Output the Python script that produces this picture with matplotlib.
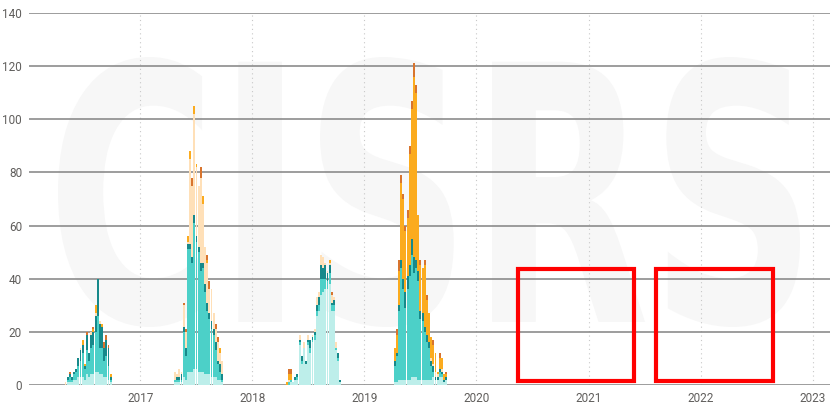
import numpy as np
import pandas as pd
import matplotlib
matplotlib.use("Agg")
import matplotlib.pyplot as plt
import matplotlib.dates as mdates
from matplotlib.textpath import TextPath
from matplotlib.patches import PathPatch, Rectangle
from matplotlib.font_manager import FontProperties
from matplotlib.transforms import Affine2D

# weekly counts per season, stacked bottom -> top
series_names = ["light", "turquoise", "teal", "peach", "orange", "brown"]
series_colors = ["#bdeeea", "#4cd0c8", "#17898a", "#ffe0b8", "#fbab1e", "#d8742e"]

start_2016 = "2016-05-02"
light_2016 = [0, 1, 1, 1, 2, 2, 3, 3, 3, 2, 4, 3, 4, 4, 5, 5, 4, 4, 3, 3, 2, 1]
turq_2016 = [0, 1, 2, 1, 2, 3, 4, 6, 9, 4, 9, 6, 10, 11, 15, 21, 10, 10, 6, 8, 5, 1]
teal_2016 = [0, 1, 1, 1, 1, 1, 3, 4, 3, 1, 6, 3, 5, 5, 6, 14, 9, 8, 5, 6, 7, 1]
peach_2016 = [1, 0, 0, 0, 0, 0, 0, 1, 0, 0, 0, 0, 1, 0, 1, 0, 1, 0, 0, 0, 0, 0]
orange_2016 = [0, 0, 0, 0, 0, 0, 0, 0, 2, 1, 0, 0, 0, 1, 3, 0, 0, 1, 0, 0, 0, 1]
brown_2016 = [0, 0, 1, 0, 0, 0, 0, 0, 0, 0, 1, 0, 0, 1, 0, 0, 0, 0, 2, 2, 1, 0]

start_2017 = "2017-04-24"
light_2017 = [1, 1, 1, 1, 3, 2, 5, 5, 5, 6, 6, 5, 5, 5, 4, 4, 4, 3, 3, 3, 2, 2, 1]
turq_2017 = [1, 1, 1, 1, 17, 9, 46, 46, 41, 55, 48, 45, 38, 39, 31, 24, 21, 18, 16, 10, 6, 3, 1]
teal_2017 = [0, 1, 1, 2, 2, 3, 2, 2, 2, 3, 2, 2, 3, 2, 3, 3, 2, 3, 2, 3, 1, 3, 2]
peach_2017 = [3, 1, 3, 1, 8, 6, 1, 32, 27, 38, 26, 23, 32, 22, 14, 15, 9, 12, 6, 5, 7, 4, 5]
orange_2017 = [0, 0, 0, 0, 0, 0, 2, 3, 0, 3, 1, 0, 0, 3, 0, 1, 0, 0, 0, 0, 0, 2, 0]
brown_2017 = [0, 0, 0, 0, 1, 1, 0, 0, 3, 0, 0, 0, 4, 0, 0, 2, 3, 0, 0, 2, 2, 0, 0]

start_2018 = "2018-04-23"
light_2018 = [0, 0, 1, 1, 2, 2, 15, 8, 14, 8, 15, 12, 16, 17, 26, 28, 34, 35, 36, 36, 38, 28, 28, 13, 9, 1]
turq_2018 = [0, 1, 1, 0, 0, 1, 1, 1, 0, 0, 1, 2, 1, 2, 2, 2, 6, 5, 4, 3, 4, 2, 2, 1, 1, 0]
teal_2018 = [0, 0, 0, 0, 1, 1, 1, 2, 0, 1, 1, 3, 1, 1, 2, 3, 5, 4, 5, 3, 3, 1, 2, 0, 2, 1]
peach_2018 = [0, 1, 0, 0, 0, 0, 2, 0, 2, 0, 2, 0, 1, 1, 3, 2, 4, 4, 1, 1, 1, 3, 1, 2, 0, 0]
orange_2018 = [1, 2, 2, 0, 0, 0, 0, 0, 0, 0, 0, 0, 0, 0, 0, 0, 0, 0, 0, 0, 1, 0, 0, 0, 0, 0]
brown_2018 = [0, 2, 2, 0, 0, 0, 0, 0, 0, 0, 0, 0, 0, 0, 0, 0, 0, 0, 0, 0, 0, 1, 0, 0, 0, 0]

start_2019 = "2019-04-10"
light_2019 = [1, 1, 2, 2, 2, 2, 2, 2, 3, 3, 3, 2, 2, 2, 2, 2, 2, 2, 3, 2, 2, 3, 3, 1, 2]
turq_2019 = [6, 10, 26, 42, 34, 27, 34, 39, 46, 39, 41, 37, 23, 22, 18, 14, 12, 5, 2, 0, 0, 2, 1, 0, 0]
teal_2019 = [2, 1, 2, 3, 4, 6, 5, 4, 6, 6, 3, 4, 3, 3, 2, 3, 2, 2, 2, 1, 1, 1, 1, 1, 1]
peach_2019 = [0, 0, 0, 0, 0, 0, 0, 0, 0, 0, 0, 0, 0, 0, 0, 0, 0, 1, 1, 2, 1, 0, 1, 0, 0]
orange_2019 = [5, 7, 13, 29, 30, 23, 22, 42, 49, 68, 63, 21, 17, 17, 23, 13, 11, 8, 7, 7, 1, 4, 4, 2, 1]
brown_2019 = [0, 2, 4, 3, 2, 2, 3, 3, 3, 5, 3, 0, 2, 0, 2, 2, 0, 0, 2, 0, 0, 2, 0, 0, 1]

seasons = [
    (start_2016, [light_2016, turq_2016, teal_2016, peach_2016, orange_2016, brown_2016]),
    (start_2017, [light_2017, turq_2017, teal_2017, peach_2017, orange_2017, brown_2017]),
    (start_2018, [light_2018, turq_2018, teal_2018, peach_2018, orange_2018, brown_2018]),
    (start_2019, [light_2019, turq_2019, teal_2019, peach_2019, orange_2019, brown_2019]),
]

# highlighted empty periods (red boxes)
box_periods = [("2020-05-17", "2021-05-30"), ("2021-08-09", "2022-08-24")]
box_ymin, box_ymax = 1.5, 43.6

fig = plt.figure(figsize=(8.3, 4.13), dpi=100)
ax = fig.add_axes([29 / 830, 28 / 413, 1 - 29 / 830, 372 / 413])
ax.set_facecolor("none")

# faint watermark
tp = TextPath((0, 0), "CISRS", size=100,
              prop=FontProperties(family="DejaVu Sans", weight="bold"))
bb = tp.get_extents()
wm_tr = (Affine2D().translate(-bb.x0, -bb.y0)
         .scale((742 / 830) / bb.width, (270 / 413) / bb.height)
         .translate(58 / 830, 86 / 413) + fig.transFigure)
wm = PathPatch(tp, transform=wm_tr, facecolor="#f7f7f7", edgecolor="none",
               zorder=0.1, clip_on=False)
ax.add_artist(wm)

for start, parts in seasons:
    n = len(parts[0])
    dates = pd.date_range(start, periods=n, freq="7D")
    bottom = np.zeros(n)
    for vals, col in zip(parts, series_colors):
        vals = np.array(vals, dtype=float)
        ax.bar(dates, vals, width=6.2, bottom=bottom, color=col,
               linewidth=0, zorder=2)
        bottom += vals

for x0, x1 in box_periods:
    d0 = mdates.date2num(pd.Timestamp(x0))
    d1 = mdates.date2num(pd.Timestamp(x1))
    ax.add_patch(Rectangle((d0, box_ymin), d1 - d0, box_ymax - box_ymin,
                           fill=False, edgecolor="#ff0000", linewidth=3,
                           zorder=5))

ax.set_ylim(0, 140)
ax.set_yticks(np.arange(0, 141, 20))
ax.set_xlim(pd.Timestamp("2016-01-04"), pd.Timestamp("2023-02-27"))
ax.xaxis.set_major_locator(mdates.YearLocator())
ax.xaxis.set_major_formatter(mdates.DateFormatter("%Y"))

ax.set_axisbelow(True)
ax.yaxis.grid(True, color="#8c8c8c", linewidth=1.2)
ax.xaxis.grid(True, color="#c8c8c8", linewidth=0.8, linestyle=(0, (1, 3)))
for s in ax.spines.values():
    s.set_visible(False)

ax.tick_params(axis="both", length=0, labelsize=8.5, labelcolor="#605e5c")
ax.tick_params(axis="y", pad=5)
ax.tick_params(axis="x", pad=5)
for lab in ax.get_xticklabels() + ax.get_yticklabels():
    lab.set_family("Roboto")

fig.savefig("out.png", dpi=100)
